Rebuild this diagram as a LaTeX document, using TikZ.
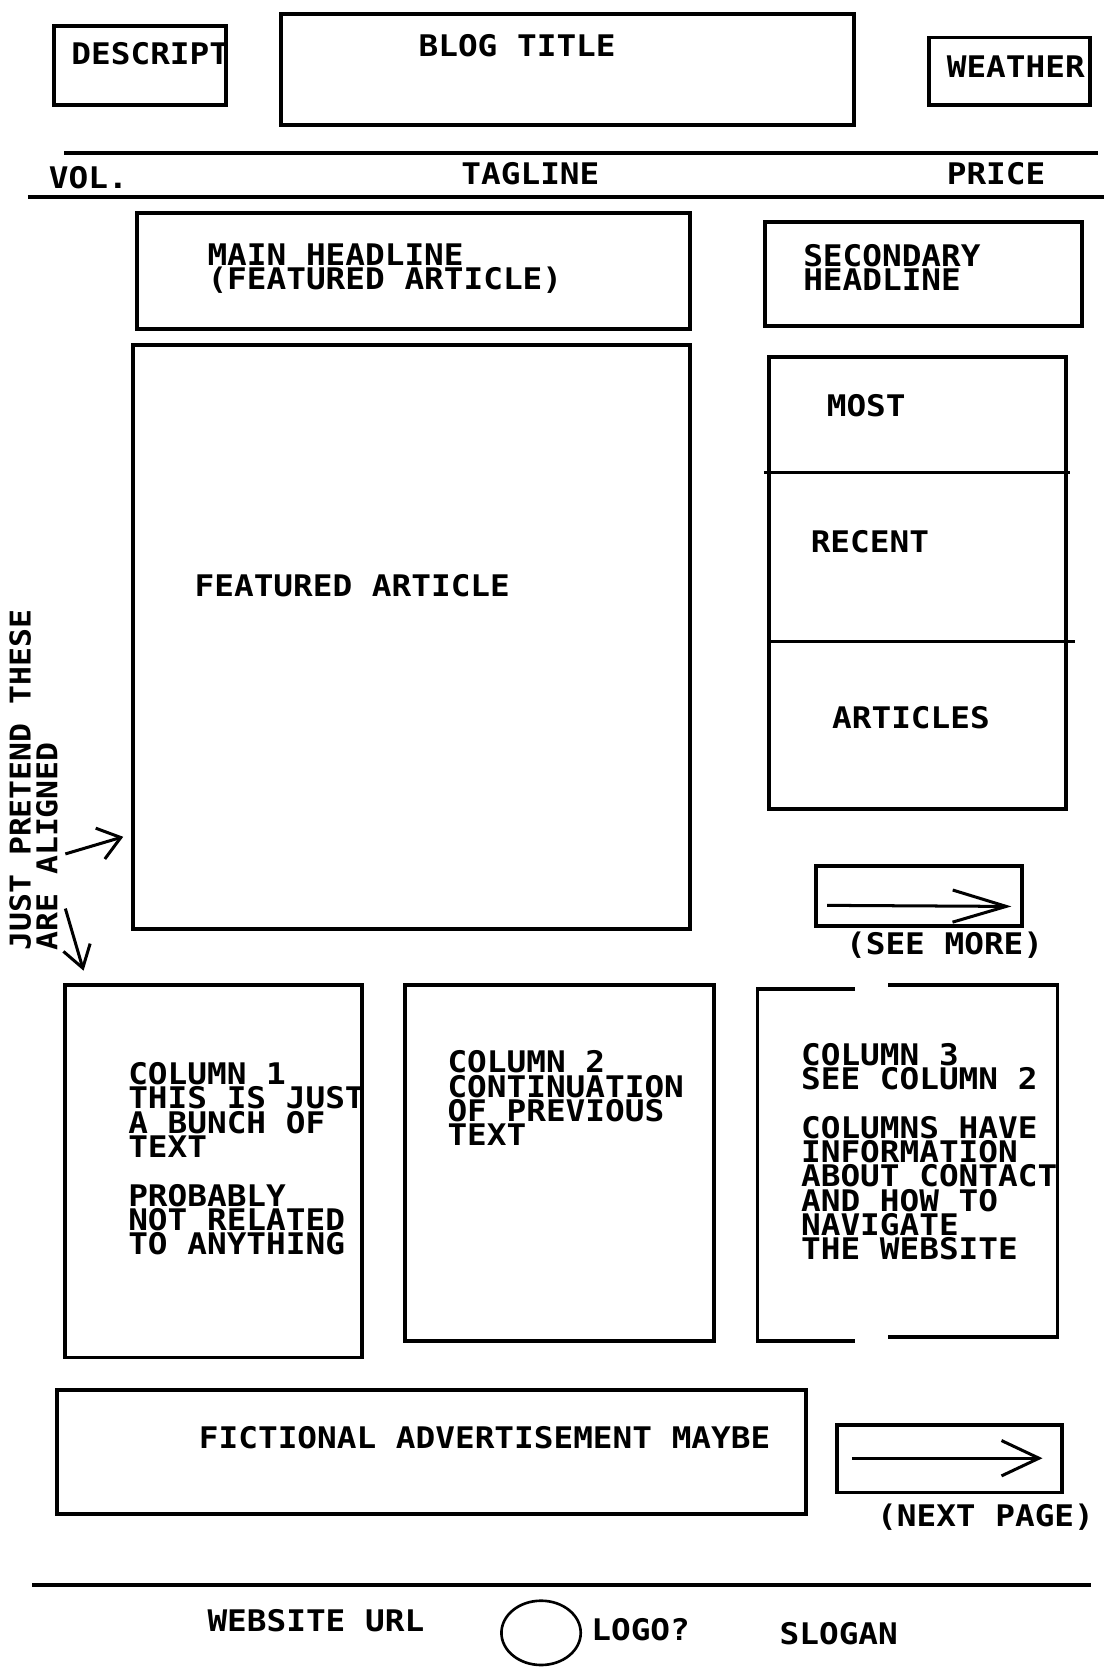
\documentclass[tikz,border=0pt]{standalone}
\usepackage{fontspec}
\usepackage{tikz}
\usetikzlibrary{arrows.meta,positioning,fit,shapes.geometric}
\newfontfamily\pixfamily[FakeStretch=1.1]{DejaVu Sans Mono}
\newcommand{\pix}{\pixfamily\bfseries\fontsize{7.9}{6.45}\selectfont\lineskiplimit=-20pt}
\newcommand{\pixnote}{\pixfamily\bfseries\fontsize{7.6}{7.1}\selectfont\lineskiplimit=-20pt}

\begin{document}
\begin{tikzpicture}[
  box/.style={draw, line width=1.05pt, inner sep=0pt},
  rule/.style={line width=1.05pt},
  thin/.style={line width=0.7pt},
  lbl/.style={anchor=west, inner sep=0pt, font=\pix},
  para/.style={anchor=north west, inner sep=0pt, align=left, font=\pix},
  arrow/.style={line width=0.8pt, -{Straight Barb[#1]}},
  every node/.style={align=left}
]
\fill[white] (0,0) rectangle (10.45,-15.68);

%% Masthead
\node[box, fit={(0.50,-0.24) (2.11,-0.98)}]  (descr)   {};
\node[box, fit={(2.62,-0.13) (7.97,-1.17)}]  (title)   {};
\node[box, fit={(8.67,-0.35) (10.17,-0.98)}] (weather) {};
\node[lbl] (descrtx)   at (0.66,-0.50) {DESCRIPT};
\node[lbl] (titletx)   at (3.90,-0.43) {BLOG TITLE};
\node[lbl] (weathertx) at (8.83,-0.62) {WEATHER};

\draw[rule] (0.60,-1.43) -- (10.25,-1.43);
\node[lbl] (vol)     at (0.45,-1.66) {VOL.};
\node[lbl] (tagline) at (4.30,-1.62) {TAGLINE};
\node[lbl] (price)   at (8.83,-1.62) {PRICE};
\draw[rule] (0.26,-1.84) -- (10.30,-1.84);

%% Headlines
\node[box, fit={(1.28,-1.99) (6.44,-3.07)}] (mainhd) {};
\node[box, fit={(7.14,-2.07) (10.10,-3.04)}] (sechd) {};
\node[para] (mainhdtx) at (1.93,-2.27) {MAIN HEADLINE\\(FEATURED ARTICLE)};
\node[para] (sechdtx)  at (7.49,-2.27) {SECONDARY\\HEADLINE};

%% Featured article and side list
\node[box, fit={(1.24,-3.22) (6.44,-8.67)}] (feat) {};
\node[lbl] (feattx) at (1.81,-5.47) {FEATURED ARTICLE};

\node[box, fit={(7.18,-3.33) (9.95,-7.55)}] (recent) {};
\draw[thin] (7.13,-4.41) -- (9.99,-4.41);
\draw[thin] (7.18,-5.99) -- (10.03,-5.99);
\node[lbl] (most)     at (7.71,-3.79) {MOST};
\node[lbl] (recenttx) at (7.56,-5.06) {RECENT};
\node[lbl] (articles) at (7.76,-6.70) {ARTICLES};

\node[box, fit={(7.62,-8.08) (9.54,-8.64)}] (seemore) {};
\coordinate (sm1) at (7.72,-8.45);
\coordinate (sm2) at (9.44,-8.46);
\draw[arrow={length=5mm, width=3mm}] (sm1) -- (sm2);
\node[lbl] (seemoretx) at (7.89,-8.82) {(SEE MORE)};

%% Side note
\node[para, font=\pixnote, rotate=90] (note) at (0.08,-8.88) {JUST PRETEND THESE\\ARE ALIGNED};
\coordinate (n1a) at (0.61,-7.97);
\coordinate (n1b) at (1.15,-7.81);
\coordinate (n2a) at (0.61,-8.48);
\coordinate (n2b) at (0.78,-9.06);
\draw[arrow={length=2mm, width=3mm}] (n1a) -- (n1b);
\draw[arrow={length=2mm, width=2.6mm}] (n2a) -- (n2b);

%% Columns
\node[box, fit={(0.61,-9.19) (3.38,-12.67)}] (col1) {};
\node[box, fit={(3.78,-9.19) (6.66,-12.52)}] (col2) {};
\draw[rule] (7.98,-9.23) -| (7.07,-12.52) -- (7.98,-12.52);
\draw[rule] (8.29,-9.19) -| (9.87,-12.48) -- (8.29,-12.48);

\node[para] (col1tx) at (1.19,-9.91)
  {COLUMN 1\\THIS IS JUST\\A BUNCH OF\\TEXT\\[6.45pt]PROBABLY\\NOT RELATED\\TO ANYTHING};
\node[para] (col2tx) at (4.17,-9.80)
  {COLUMN 2\\CONTINUATION\\OF PREVIOUS\\TEXT};
\node[para] (col3tx) at (7.47,-9.73)
  {COLUMN 3\\SEE COLUMN 2\\[6.45pt]COLUMNS HAVE\\INFORMATION\\ABOUT CONTACT\\AND HOW TO\\NAVIGATE\\THE WEBSITE};

%% Advertisement and next page
\node[box, fit={(0.53,-12.97) (7.52,-14.13)}] (advert) {};
\node[lbl] (adverttx) at (1.85,-13.42) {FICTIONAL ADVERTISEMENT MAYBE};

\node[box, fit={(7.81,-13.30) (9.91,-13.93)}] (nextpg) {};
\coordinate (np1) at (7.95,-13.61);
\coordinate (np2) at (9.73,-13.61);
\draw[arrow={length=3.5mm, width=3.3mm}] (np1) -- (np2);
\node[lbl] (nextpgtx) at (8.18,-14.16) {(NEXT PAGE)};

%% Footer
\draw[rule] (0.30,-14.79) -- (10.18,-14.79);
\node[lbl] (url) at (1.93,-15.13) {WEBSITE URL};
\node[draw, thin, ellipse, minimum width=0.74cm, minimum height=0.60cm, inner sep=0pt]
  (logo) at (5.05,-15.24) {};
\node[lbl, right=0.08cm of logo.east, yshift=0.03cm] (logotx) {LOGO?};
\node[lbl] (slogan) at (7.27,-15.25) {SLOGAN};

\end{tikzpicture}
\end{document}
